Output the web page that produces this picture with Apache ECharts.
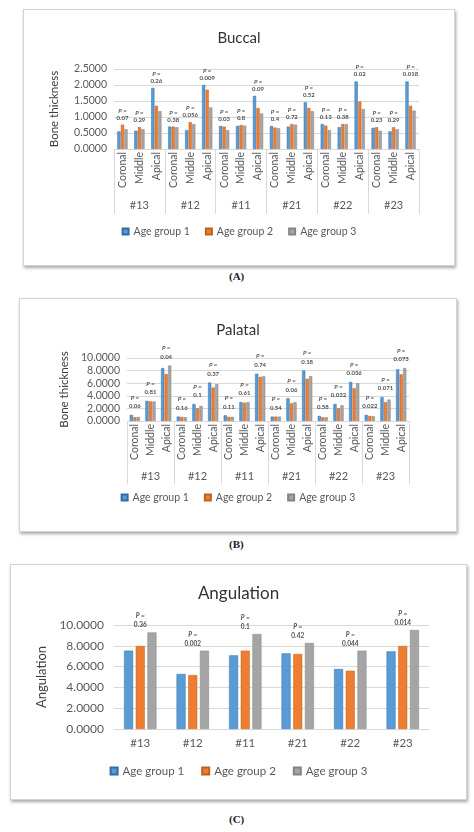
<!DOCTYPE html>
<html>
<head>
<meta charset="utf-8">
<script src="https://cdn.jsdelivr.net/npm/echarts@6/dist/echarts.min.js"></script>
<style>
  body { margin: 0; width: 474px; height: 832px; background: #fff; position: relative; overflow: hidden; }
  .panel { position: absolute; box-sizing: border-box; background: #fff; border: 1px solid #d4d4d4;
           box-shadow: 1px 2px 3px rgba(0,0,0,0.35); }
  .cap { position: absolute; font: bold 11px "Liberation Serif", serif; color: #222; }
</style>
</head>
<body>
<div id="buccal" class="panel" style="left:23px;top:9px;width:432px;height:257px"></div>
<div class="cap" style="left:229px;top:270px">(A)</div>
<div id="palatal" class="panel" style="left:19px;top:298px;width:438px;height:234px"></div>
<div class="cap" style="left:229px;top:538px">(B)</div>
<div id="angulation" class="panel" style="left:10px;top:564px;width:457px;height:236px"></div>
<div class="cap" style="left:229px;top:813px">(C)</div>

<script>
const sites = ['Coronal', 'Middle', 'Apical'];
const teeth = ['#13', '#12', '#11', '#21', '#22', '#23'];
const groupNames = ['Age group 1', 'Age group 2', 'Age group 3'];
const colors = ['#5b9bd5', '#ed7d31', '#a5a5a5'];
const borders = ['#2f6ea8', '#c0601e', '#848484'];

// Buccal bone thickness, order: #13 Coronal/Middle/Apical, #12 ..., #23
const buccalG1 = [0.55, 0.57, 1.91, 0.70, 0.59, 2.00, 0.72, 0.72, 1.66, 0.72, 0.70, 1.46, 0.78, 0.68, 2.11, 0.66, 0.55, 2.11];
const buccalG2 = [0.76, 0.68, 1.35, 0.70, 0.84, 1.85, 0.70, 0.75, 1.28, 0.67, 0.78, 1.28, 0.73, 0.78, 1.48, 0.68, 0.68, 1.35];
const buccalG3 = [0.62, 0.62, 1.18, 0.68, 0.78, 1.30, 0.59, 0.73, 1.11, 0.65, 0.76, 1.18, 0.59, 0.78, 1.25, 0.57, 0.62, 1.20];
const buccalP = ['0.07', '0.29', '0.26', '0.38', '0.056', '0.009', '0.03', '0.8', '0.09', '0.4', '0.72', '0.52', '0.13', '0.38', '0.02', '0.23', '0.29', '0.018'];

// Palatal bone thickness
const palatalG1 = [0.96, 3.2, 8.4, 0.7, 2.7, 6.1, 0.9, 3.0, 7.5, 0.7, 3.6, 8.0, 0.8, 2.7, 6.2, 0.96, 3.8, 8.2];
const palatalG2 = [0.6, 3.1, 7.45, 0.65, 2.0, 5.3, 0.65, 2.9, 7.0, 0.7, 2.8, 6.7, 0.6, 2.0, 5.2, 0.8, 3.0, 7.4];
const palatalG3 = [0.65, 3.1, 8.8, 0.6, 2.4, 5.85, 0.65, 3.0, 7.1, 0.7, 3.0, 7.1, 0.6, 2.5, 6.0, 0.75, 3.4, 8.4];
const palatalP = ['0.06', '0.81', '0.04', '0.16', '0.1', '0.37', '0.11', '0.61', '0.74', '0.54', '0.06', '0.18', '0.58', '0.032', '0.036', '0.022', '0.071', '0.073'];

// Angulation
const angG1 = [7.53, 5.29, 7.08, 7.27, 5.77, 7.46];
const angG2 = [7.98, 5.19, 7.53, 7.21, 5.60, 7.98];
const angG3 = [9.29, 7.53, 9.13, 8.27, 7.53, 9.52];
const angP = ['0.36', '0.002', '0.1', '0.42', '0.044', '0.014'];

const buccalTicks = { min: 0, max: 2.5, interval: 0.5 };
const palatalTicks = { min: 0, max: 10, interval: 2 };
const angTicks = { min: 0, max: 10, interval: 2 };

const font = 'Lato';
const rootCats = teeth.flatMap(t => sites.map(s => t + '|' + s));

function barSeries(groups, barWidth, barGap) {
  return groups.map((d, i) => ({
    name: groupNames[i],
    type: 'bar',
    data: d,
    barWidth: barWidth,
    barGap: barGap,
    itemStyle: { color: colors[i], borderColor: borders[i], borderWidth: 0.5 }
  }));
}

// invisible points on top of each cluster carry the p-value text
function pSeries(groups, pvals, size, lineH, dist) {
  const tops = groups[0].map((v, i) => Math.max(v, groups[1][i], groups[2][i]));
  return {
    type: 'scatter',
    data: tops,
    symbolSize: 1,
    itemStyle: { color: 'rgba(0,0,0,0)' },
    silent: true,
    z: 5,
    label: {
      show: true,
      position: 'top',
      distance: dist,
      formatter: p => '{i|P =}\n{v|' + pvals[p.dataIndex] + '}',
      rich: {
        i: { fontFamily: font, fontStyle: 'italic', fontWeight: 'bold', fontSize: size, lineHeight: lineH, color: '#222' },
        v: { fontFamily: font, fontWeight: 'bold', fontSize: size, lineHeight: lineH, color: '#222' }
      }
    }
  };
}

function yAxis(ticks, name, fs, nameGap, margin) {
  return {
    type: 'value', min: ticks.min, max: ticks.max, interval: ticks.interval,
    name: name, nameLocation: 'middle', nameGap: nameGap,
    nameTextStyle: { fontFamily: font, fontSize: fs + 1, color: '#404040' },
    axisLine: { show: false }, axisTick: { show: false },
    axisLabel: { fontFamily: font, fontSize: fs, color: '#595959', margin: margin, formatter: v => v.toFixed(4) },
    splitLine: { lineStyle: { color: '#d9d9d9', width: 1 } }
  };
}

// two-level category chart (Buccal, Palatal)
function multiLevel(el, cfg) {
  const chart = echarts.init(document.getElementById(el));
  chart.setOption({
    animation: false,
    title: {
      text: cfg.title, left: 'center', top: cfg.titleTop, padding: [0, 0, 0, cfg.titlePad],
      textStyle: { fontFamily: font, fontSize: 15, fontWeight: 'normal', color: '#333' }
    },
    legend: {
      data: groupNames, left: 'center', top: cfg.legendTop, padding: [0, 0, 0, cfg.legendPad],
      icon: 'rect', itemWidth: 6, itemHeight: 6, itemGap: 15,
      textStyle: { fontFamily: font, fontSize: 10.5, color: '#595959' }
    },
    grid: cfg.grid,
    xAxis: [
      {
        type: 'category', data: rootCats, position: 'bottom',
        axisLine: { lineStyle: { color: '#d9d9d9' } },
        axisTick: { show: false },
        axisLabel: { interval: 0, rotate: 90, margin: 3, fontFamily: font, fontSize: 10.5, color: '#595959',
                     formatter: v => v.split('|')[1] }
      },
      {
        type: 'category', data: teeth, position: 'bottom',
        axisLine: { show: false },
        axisTick: { show: true, interval: 0, length: cfg.sepLen, lineStyle: { color: '#d9d9d9' } },
        axisLabel: { interval: 0, margin: cfg.groupMargin, fontFamily: font, fontSize: 11, color: '#595959' }
      }
    ],
    yAxis: yAxis(cfg.ticks, 'Bone thickness', 10.5, cfg.nameGap, 7),
    series: [...barSeries(cfg.groups, 3.2, '10%'), pSeries(cfg.groups, cfg.p, 6, cfg.lineH, cfg.pDist)]
  });
}

multiLevel('buccal', {
  title: 'Buccal', titleTop: 21, titlePad: 10,
  legendTop: 216, legendPad: 22,
  grid: { left: 90, top: 59, width: 305, height: 80 },
  ticks: buccalTicks, nameGap: 54, sepLen: 65, groupMargin: 51,
  groups: [buccalG1, buccalG2, buccalG3], p: buccalP, lineH: 7, pDist: 3
});

multiLevel('palatal', {
  title: 'Palatal', titleTop: 24, titlePad: 20,
  legendTop: 193, legendPad: 26,
  grid: { left: 107, top: 59, width: 282, height: 63 },
  ticks: palatalTicks, nameGap: 56, sepLen: 63, groupMargin: 50,
  groups: [palatalG1, palatalG2, palatalG3], p: palatalP, lineH: 8.5, pDist: 4
});

const angChart = echarts.init(document.getElementById('angulation'));
angChart.setOption({
  animation: false,
  title: {
    text: 'Angulation', left: 'center', top: 20, padding: [0, 0, 0, 22],
    textStyle: { fontFamily: font, fontSize: 17, fontWeight: 'normal', color: '#333' }
  },
  legend: {
    data: groupNames, left: 'center', top: 200, padding: [0, 0, 0, 28],
    icon: 'rect', itemWidth: 7, itemHeight: 7, itemGap: 17,
    textStyle: { fontFamily: font, fontSize: 11.5, color: '#595959' }
  },
  grid: { left: 103, top: 60, width: 315, height: 104 },
  xAxis: {
    type: 'category', data: teeth,
    axisLine: { lineStyle: { color: '#d9d9d9' } },
    axisTick: { show: false },
    axisLabel: { margin: 8, fontFamily: font, fontSize: 11.5, color: '#595959' }
  },
  yAxis: yAxis(angTicks, 'Angulation', 12, 62, 10),
  series: [...barSeries([angG1, angG2, angG3], 9, '30%'), pSeries([angG1, angG2, angG3], angP, 6.5, 9, 2)]
});
</script>
</body>
</html>
